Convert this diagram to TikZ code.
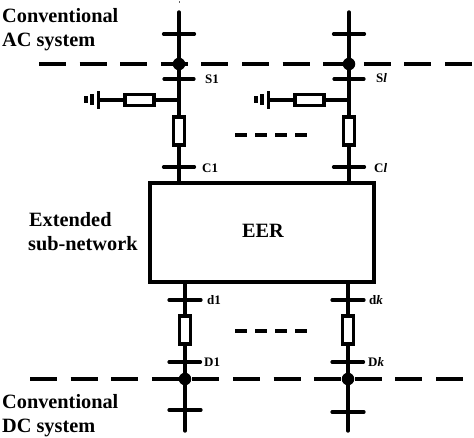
\documentclass[tikz,border=0pt]{standalone}
\usepackage{fontspec}
\setmainfont{Liberation Serif}
\begin{document}
\begin{tikzpicture}[x=1pt,y=-1pt,line cap=butt,
  wire/.style={line width=3.4pt},
  busbar/.style={line width=3.2pt,line cap=round},
  sysline/.style={line width=3.4pt,dash pattern=on 27pt off 13.6pt},
  shortdash/.style={line width=3.6pt,dash pattern=on 11.5pt off 8.5pt},
  vres/.style={draw,fill=white,line width=3.2pt,minimum width=11pt,minimum height=28pt,inner sep=0pt},
  hres/.style={draw,fill=white,line width=3.2pt,minimum width=29pt,minimum height=11pt,inner sep=0pt},
  junction/.style={circle,fill=black,inner sep=0pt,minimum size=12.5pt},
  eerbox/.style={draw,line width=3.6pt,minimum width=224pt,minimum height=99pt,inner sep=0pt},
  head/.style={anchor=base west,inner sep=0pt,font=\fontsize{20.3}{22}\selectfont\bfseries},
  tag/.style={anchor=west,inner sep=0pt,font=\fontsize{13}{15}\selectfont\bfseries}]
\useasboundingbox (0,0) rectangle (474,438);

% system lines
\coordinate (acL) at (39,64);  \coordinate (acR) at (474,64);
\coordinate (dcL) at (30,379); \coordinate (dcR) at (463,379);
\draw[sysline] (acL) -- (acR);
\draw[sysline] (dcL) -- (dcR);

% box
\node[eerbox] (eer) at (262,232.5) {};
\node[inner sep=0pt,anchor=base,font=\fontsize{20.3}{22}\selectfont\bfseries] (eerlabel) at (263,238) {EER};

% upper feeders
\coordinate (t1) at (179,12);  \coordinate (t2) at (349,12);
\coordinate (b1) at (179,183); \coordinate (b2) at (349,183);
\draw[wire,line cap=round] (t1) -- (b1);
\draw[wire,line cap=round] (t2) -- (b2);
\node[junction] (j1) at (179,64) {};
\node[junction] (j2) at (349,64) {};
\coordinate (mark) at (179,1.5); \coordinate (markb) at (179,3);
\draw[line width=1pt,black!60] (mark) -- (markb);

% upper bars
\foreach \n/\x in {a/179,b/349}{
  \coordinate (\n L1) at (\x-15.5,34);  \coordinate (\n R1) at (\x+15.5,34);
  \coordinate (\n L2) at (\x-15,79);    \coordinate (\n R2) at (\x+15,79);
  \coordinate (\n L3) at (\x-15.5,167); \coordinate (\n R3) at (\x+15.5,167);
  \draw[busbar] (\n L1) -- (\n R1);
  \draw[busbar] (\n L2) -- (\n R2);
  \draw[busbar] (\n L3) -- (\n R3);
  \node[vres] (\n v) at (\x,131) {};
  \coordinate (\n tap) at (\x,100);
  \node[hres] (\n h) at (\x-39.5,100) {};
  \coordinate (\n g) at (\x-80.5,100);
  \draw[wire] (\n tap) -- (\n h) -- (\n g);
  \coordinate (\n gt) at (\x-80.5,91.5); \coordinate (\n gb) at (\x-80.5,109);
  \draw[wire] (\n gt) -- (\n gb);
  \coordinate (\n mt) at (\x-87,94.5); \coordinate (\n mb) at (\x-87,105.5);
  \draw[line width=3.2pt] (\n mt) -- (\n mb);
  \coordinate (\n st) at (\x-93,96.5); \coordinate (\n sb) at (\x-93,103.5);
  \draw[line width=3.2pt] (\n st) -- (\n sb);
}

% lower feeders
\coordinate (u1) at (185,282); \coordinate (u2) at (348,282);
\coordinate (w1) at (185,431); \coordinate (w2) at (348,431);
\draw[wire,line cap=round] (u1) -- (w1);
\draw[wire,line cap=round] (u2) -- (w2);
\node[junction] (j3) at (185,379) {};
\node[junction] (j4) at (348,379) {};
\foreach \n/\x/\y in {c/185/410,d/348/412}{
  \coordinate (\n L1) at (\x-16,300);  \coordinate (\n R1) at (\x+16,300);
  \coordinate (\n L2) at (\x-16,362);  \coordinate (\n R2) at (\x+15.5,362);
  \coordinate (\n L3) at (\x-16,\y);   \coordinate (\n R3) at (\x+16,\y);
  \draw[busbar] (\n L1) -- (\n R1);
  \draw[busbar] (\n L2) -- (\n R2);
  \draw[busbar] (\n L3) -- (\n R3);
  \node[vres] (\n v) at (\x,330) {};
}

% continuation dashes
\coordinate (m1) at (235,135); \coordinate (m2) at (309,135);
\coordinate (m3) at (235,331); \coordinate (m4) at (309,331);
\draw[shortdash] (m1) -- (m2);
\draw[shortdash] (m3) -- (m4);

% headings
\node[head] (h1) at (2,23)  {Conventional};
\node[head] (h2) at (2,47)  {AC system};
\node[head] (h3) at (29,227) {Extended};
\node[head] (h4) at (28,251) {sub-network};
\node[head] (h5) at (2,408) {Conventional};
\node[head] (h6) at (2,432) {DC system};

% tags
\node[tag] (s1) at (205,79)  {S1};
\node[tag] (sl) at (376,78)  {S\textit{l}};
\node[tag] (c1) at (202,168) {C1};
\node[tag] (cl) at (374,168) {C\textit{l}};
\node[tag] (d1) at (207,300) {d1};
\node[tag] (dk) at (369,300) {d\textit{k}};
\node[tag] (D1) at (204,362) {D1};
\node[tag] (Dk) at (368,362) {D\textit{k}};
\end{tikzpicture}
\end{document}
